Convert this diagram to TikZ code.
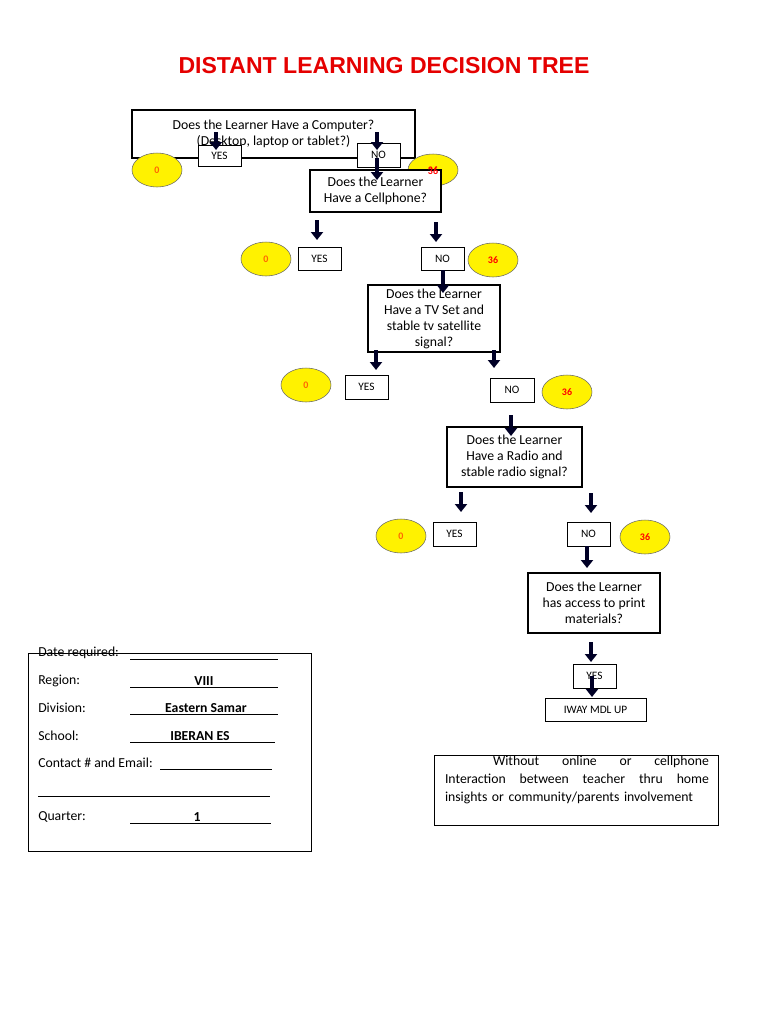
\documentclass[tikz,border=0pt]{standalone}
\usepackage{fontspec}
\setmainfont{Carlito}
\newfontfamily\titlef{Liberation Sans}
\usetikzlibrary{arrows.meta,shapes.geometric}
\begin{document}
\begin{tikzpicture}[x=0.75pt,y=-0.75pt,
 box/.style={draw,thick,fill=white,inner sep=0pt,font=\fontsize{10.3}{12}\selectfont,align=center},
 small/.style={draw,fill=white,inner sep=0pt,font=\fontsize{8.5}{10}\selectfont},
 ell/.style={ellipse,draw=black!60,fill=yellow,inner sep=0pt,font=\bfseries\fontsize{7.5}{9}\selectfont},
 barr/.style={draw=black!85!blue,line width=3pt,-{Triangle[width=9pt,length=6pt]}},
 lab/.style={anchor=west,font=\fontsize{10.3}{12}\selectfont,inner sep=0pt},
 val/.style={font=\bfseries\fontsize{10.3}{12}\selectfont}]
\useasboundingbox (0,0) rectangle (768,1024);
\node[font=\titlef\bfseries\fontsize{17.3}{20}\selectfont,text=red!90!black] (title) at (384,66) {DISTANT LEARNING DECISION TREE};
% level 1
\node[box,minimum width=283*0.75pt,minimum height=48*0.75pt] (q1) at (273.5,134) {Does the Learner Have a Computer?\\(Desktop, laptop or tablet?)};
\node[ell,minimum width=50*0.75pt,minimum height=34*0.75pt,text=orange!80!red] (e1a) at (157,170) {0};
\node[ell,minimum width=50*0.75pt,minimum height=32*0.75pt,text=red] (e1b) at (433,170) {36};
\node[small,minimum width=43*0.75pt,minimum height=21*0.75pt] (y1) at (219.5,155.5) {YES};
\node[small,minimum width=43*0.75pt,minimum height=24*0.75pt] (n1) at (378.5,155) {NO};
\coordinate (a1s) at (216,132); \coordinate (a1e) at (216,150);
\coordinate (a2s) at (377,132); \coordinate (a2e) at (377,150);
\draw[barr] (a1s) -- (a1e);
\draw[barr] (a2s) -- (a2e);
\node[box,minimum width=131*0.75pt,minimum height=42*0.75pt] (q2) at (375.5,191) {Does the Learner\\Have a Cellphone?};
\node[text=red,font=\bfseries\fontsize{7.5}{9}\selectfont] (t36) at (433,171) {36};
\coordinate (a3s) at (377,158); \coordinate (a3e) at (377,180);
\draw[barr] (a3s) -- (a3e);
% level 2
\coordinate (b1s) at (317,220); \coordinate (b1e) at (317,240);
\coordinate (b2s) at (436,222); \coordinate (b2e) at (436,242);
\draw[barr] (b1s) -- (b1e);
\draw[barr] (b2s) -- (b2e);
\node[ell,minimum width=50*0.75pt,minimum height=34*0.75pt,text=orange!80!red] (e2a) at (266,259) {0};
\node[small,minimum width=43*0.75pt,minimum height=23*0.75pt] (y2) at (319.5,258.5) {YES};
\node[small,minimum width=43*0.75pt,minimum height=23*0.75pt] (n2) at (442.5,258.5) {NO};
\node[ell,minimum width=50*0.75pt,minimum height=34*0.75pt,text=red] (e2b) at (493,260) {36};
\node[box,minimum width=132*0.75pt,minimum height=67*0.75pt] (q3) at (434,318.5) {Does the Learner\\Have a TV Set and\\stable tv satellite\\signal?};
\coordinate (b3s) at (443,270); \coordinate (b3e) at (443,293);
\draw[barr] (b3s) -- (b3e);
% level 3
\coordinate (c1s) at (376,350); \coordinate (c1e) at (376,370);
\coordinate (c2s) at (494,350); \coordinate (c2e) at (494,368);
\draw[barr] (c1s) -- (c1e);
\draw[barr] (c2s) -- (c2e);
\node[ell,minimum width=50*0.75pt,minimum height=34*0.75pt,text=orange!80!red] (e3a) at (306,385) {0};
\node[small,minimum width=43*0.75pt,minimum height=24*0.75pt] (y3) at (366.5,387) {YES};
\node[small,minimum width=44*0.75pt,minimum height=24*0.75pt] (n3) at (512,390) {NO};
\node[ell,minimum width=50*0.75pt,minimum height=34*0.75pt,text=red] (e3b) at (567,392) {36};
\node[box,minimum width=135*0.75pt,minimum height=60*0.75pt] (q4) at (514.5,457) {Does the Learner\\Have a Radio and\\stable radio signal?};
\coordinate (d0s) at (511,415); \coordinate (d0e) at (511,436);
\draw[barr] (d0s) -- (d0e);
% level 4
\coordinate (d1s) at (461,492); \coordinate (d1e) at (461,512);
\coordinate (d2s) at (591,493); \coordinate (d2e) at (591,513);
\draw[barr] (d1s) -- (d1e);
\draw[barr] (d2s) -- (d2e);
\node[ell,minimum width=50*0.75pt,minimum height=34*0.75pt,text=orange!80!red] (e4a) at (401,536) {0};
\node[small,minimum width=43*0.75pt,minimum height=24*0.75pt] (y4) at (454.5,534) {YES};
\node[small,minimum width=43*0.75pt,minimum height=24*0.75pt] (n4) at (588.5,534) {NO};
\node[ell,minimum width=50*0.75pt,minimum height=34*0.75pt,text=red] (e4b) at (645,537) {36};
\node[box,minimum width=132*0.75pt,minimum height=60*0.75pt] (q5) at (594,603) {Does the Learner\\has access to print\\materials?};
\coordinate (e0s) at (587,546); \coordinate (e0e) at (587,568);
\draw[barr] (e0s) -- (e0e);
% level 5
\coordinate (f1s) at (591,642); \coordinate (f1e) at (591,662);
\draw[barr] (f1s) -- (f1e);
\node[small,minimum width=43*0.75pt,minimum height=24*0.75pt] (y5) at (594.5,676) {YES};
\node[small,minimum width=101*0.75pt,minimum height=23*0.75pt] (iw) at (595.5,709.5) {IWAY MDL UP};
\coordinate (f2s) at (592,676); \coordinate (f2e) at (592,697);
\draw[barr] (f2s) -- (f2e);
% note
\node[draw,minimum width=284*0.75pt,minimum height=70*0.75pt,inner sep=0pt] (note) at (576,790) {};
\node[text width=264*0.75pt,align=left,inner sep=0pt,font=\fontsize{10.3}{13.5}\selectfont,anchor=north] (notet) at (577,756)
 {\hspace*{3.5em}Without\hfill online\hfill or\hfill cellphone\\Interaction\hfill between\hfill teacher\hfill thru\hfill home\\insights or community/parents involvement};
% form
\node[draw,minimum width=283*0.75pt,minimum height=198*0.75pt,inner sep=0pt] (form) at (169.5,752) {};
\node[lab] (l1) at (38,653) {Date required:};
\node[lab] (l2) at (38,681) {Region:};
\node[lab] (l3) at (38,708) {Division:};
\node[lab] (l4) at (38,736) {School:};
\node[lab] (l5) at (38,763) {Contact \# and Email:};
\node[lab] (l6) at (38,817) {Quarter:};
\node[val] (v2) at (204,681) {VIII};
\node[val] (v3) at (206,708) {Eastern Samar};
\node[val] (v4) at (200,736) {IBERAN ES};
\node[val] (v6) at (197,817) {1};
\coordinate (u1a) at (130,659); \coordinate (u1b) at (278,659);
\coordinate (u2a) at (130,687); \coordinate (u2b) at (278,687);
\coordinate (u3a) at (130,714); \coordinate (u3b) at (278,714);
\coordinate (u4a) at (130,742); \coordinate (u4b) at (275,742);
\coordinate (u5a) at (160,769); \coordinate (u5b) at (272,769);
\coordinate (u6a) at (38,796); \coordinate (u6b) at (270,796);
\coordinate (u7a) at (130,823); \coordinate (u7b) at (271,823);
\foreach \p in {1,...,7} \draw[thin] (u\p a) -- (u\p b);
\end{tikzpicture}
\end{document}
